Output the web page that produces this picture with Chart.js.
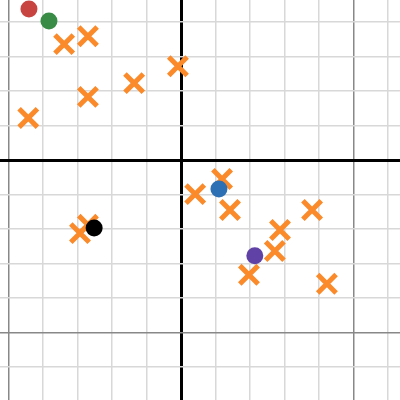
<!DOCTYPE html><html><head><style>html,body{margin:0;padding:0;background:#fff}#w{width:400px;height:400px}</style>
<script src="https://cdn.jsdelivr.net/npm/chart.js@4"></script></head><body><div id="w"><canvas id="c"></canvas></div><script>
const crossX=[-3.39,-2.70,-1.36,-0.09,-2.70,-4.43,0.41,1.19,1.42,-2.70,-2.93,3.80,2.87,2.72,1.97,4.23];
const crossY=[3.36,3.59,2.23,2.72,1.83,1.22,-0.99,-0.55,-1.45,-1.88,-2.12,-1.45,-2.03,-2.64,-3.33,-3.59];
const dotX=[-4.41,-3.83,-2.52,1.10,2.14];
const dotY=[4.38,4.03,-1.97,-0.84,-2.78];
const dotColors=['#c74440','#388c46','#000000','#2d70b3','#6042a6'];
const ds=[];
dotX.forEach((x,i)=>ds.push({data:[{x,y:dotY[i]}],pointStyle:'circle',pointRadius:8.5,backgroundColor:dotColors[i],borderColor:dotColors[i],borderWidth:0,clip:false}));
ds.push({data:crossX.map((x,i)=>({x,y:crossY[i]})),pointStyle:'crossRot',pointRadius:13,borderColor:'#fa8a2a',borderWidth:5,borderCapStyle:'round',clip:false});
function gc(ctx){const v=ctx.tick&&ctx.tick.value;if(v===0)return '#000';if(Math.abs(v)===5)return '#888';return '#d8d8d8';}
function gw(ctx){const v=ctx.tick&&ctx.tick.value;if(v===0)return 3;return 1.5;}
function ints(a){const t=[];for(let v=Math.ceil(a.min);v<=Math.floor(a.max);v++)t.push({value:v});a.ticks=t;}
new Chart(document.getElementById('c'),{type:'scatter',data:{datasets:ds},options:{animation:false,responsive:true,maintainAspectRatio:false,layout:{padding:0,autoPadding:false},
plugins:{legend:{display:false},tooltip:{enabled:false}},
scales:{x:{min:-5.25,max:6.35,afterBuildTicks:ints,ticks:{display:false,padding:0},border:{display:false},grid:{color:gc,lineWidth:gw,drawTicks:false,tickLength:0}},
y:{min:-6.96,max:4.64,afterBuildTicks:ints,ticks:{display:false,padding:0},border:{display:false},grid:{color:gc,lineWidth:gw,drawTicks:false,tickLength:0}}}}});
</script></body></html>
